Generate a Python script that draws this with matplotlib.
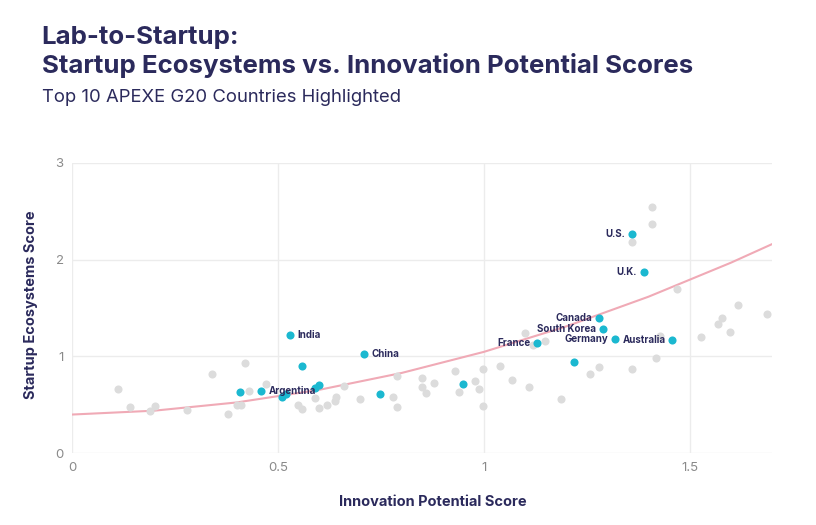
import numpy as np
import matplotlib.pyplot as plt

# Other countries (grey)
other_x = [0.111, 0.141, 0.190, 0.201, 0.280, 0.339, 0.379, 0.401, 0.411, 0.420,
           0.430, 0.470, 0.549, 0.558, 0.590, 0.600, 0.620, 0.638, 0.641, 0.660,
           0.699, 0.780, 0.790, 0.790, 0.850, 0.850, 0.860, 0.879, 0.929, 0.939,
           0.979, 0.989, 0.998, 0.998, 1.039, 1.069, 1.099, 1.109, 1.119, 1.149,
           1.187, 1.258, 1.279, 1.359, 1.359, 1.408, 1.408, 1.418, 1.428, 1.468,
           1.528, 1.568, 1.579, 1.598, 1.617, 1.688]
other_y = [0.666, 0.477, 0.436, 0.488, 0.446, 0.818, 0.405, 0.495, 0.501, 0.928,
           0.645, 0.714, 0.495, 0.454, 0.567, 0.467, 0.495, 0.545, 0.585, 0.694,
           0.557, 0.577, 0.794, 0.474, 0.776, 0.687, 0.619, 0.725, 0.845, 0.635,
           0.742, 0.663, 0.874, 0.485, 0.897, 0.756, 1.237, 0.684, 1.116, 1.155,
           0.565, 0.818, 0.887, 0.866, 2.186, 2.539, 2.367, 0.986, 1.216, 1.697,
           1.196, 1.336, 1.398, 1.254, 1.526, 1.436]

# G20 countries (teal)
g20_x = [1.359, 1.388, 1.279, 1.289, 1.318, 1.458, 1.130, 0.530, 0.710, 0.460,
         0.409, 0.510, 0.519, 0.559, 0.591, 0.600, 0.749, 0.949, 1.219]
g20_y = [2.261, 1.869, 1.392, 1.281, 1.175, 1.165, 1.137, 1.220, 1.021, 0.645,
         0.632, 0.584, 0.608, 0.897, 0.678, 0.704, 0.617, 0.716, 0.946]
g20_names = ["U.S.", "U.K.", "Canada", "South Korea", "Germany", "Australia",
             "France", "India", "China", "Argentina"]
right_side = ["India", "China", "Argentina"]

# trend line
trend_x = [0, 0.2, 0.4, 0.6, 0.8, 1.0, 1.2, 1.4, 1.6, 1.7]
trend_y = [0.40, 0.44, 0.525, 0.655, 0.829, 1.047, 1.31, 1.617, 1.968, 2.16]

navy = "#2b2a5c"
fam = ["Inter", "DejaVu Sans"]

fig = plt.figure(figsize=(8.16, 5.25), dpi=100)
ax = fig.add_axes([0.0882, 0.1366, 0.858, 0.5534])

ax.plot(trend_x, trend_y, color="#f0aab6", linewidth=1.5, zorder=2)
ax.scatter(other_x, other_y, s=34, color="#dcdcdc", linewidths=0, zorder=3)
ax.scatter(g20_x, g20_y, s=34, color="#1bb8d0", linewidths=0, zorder=4)

for i, name in enumerate(g20_names):
    if name in right_side:
        ax.annotate(name, (g20_x[i], g20_y[i]), xytext=(5, 0), textcoords="offset points",
                    ha="left", va="center", fontsize=7, fontweight="bold", color=navy,
                    family=fam, zorder=5)
    else:
        ax.annotate(name, (g20_x[i], g20_y[i]), xytext=(-5, 0), textcoords="offset points",
                    ha="right", va="center", fontsize=7, fontweight="bold", color=navy,
                    family=fam, zorder=5)

ax.set_xlim(0, 1.7)
ax.set_ylim(0, 3)
ax.set_xticks([0, 0.5, 1, 1.5])
ax.set_xticklabels(["0", "0.5", "1", "1.5"])
ax.set_yticks([0, 1, 2, 3])
ax.set_yticklabels(["0", "1", "2", "3"])
ax.tick_params(length=0, labelsize=9.5, labelcolor="#8a8a8a", pad=6)
for lab in ax.get_xticklabels() + ax.get_yticklabels():
    lab.set_family(fam)
ax.grid(True, color="#ececec", linewidth=1)
ax.set_axisbelow(True)
for s in ax.spines.values():
    s.set_visible(False)

ax.set_xlabel("Innovation Potential Score", fontsize=10.5, fontweight="bold", color=navy,
              family=fam)
ax.xaxis.set_label_coords(0.516, -0.144)
ax.set_ylabel("Startup Ecosystems Score", fontsize=10.5, fontweight="bold", color=navy,
              family=fam)
ax.yaxis.set_label_coords(-0.049, 0.512)

fig.text(0.051, 0.916, "Lab-to-Startup:", fontsize=18.6, fontweight="bold", color=navy,
         family=fam, va="baseline")
fig.text(0.051, 0.861, "Startup Ecosystems vs. Innovation Potential Scores", fontsize=18.6,
         fontweight="bold", color=navy, family=fam, va="baseline")
fig.text(0.051, 0.806, "Top 10 APEXE G20 Countries Highlighted", fontsize=13.3,
         color=navy, family=fam, va="baseline")

fig.savefig("out.png", dpi=100)
